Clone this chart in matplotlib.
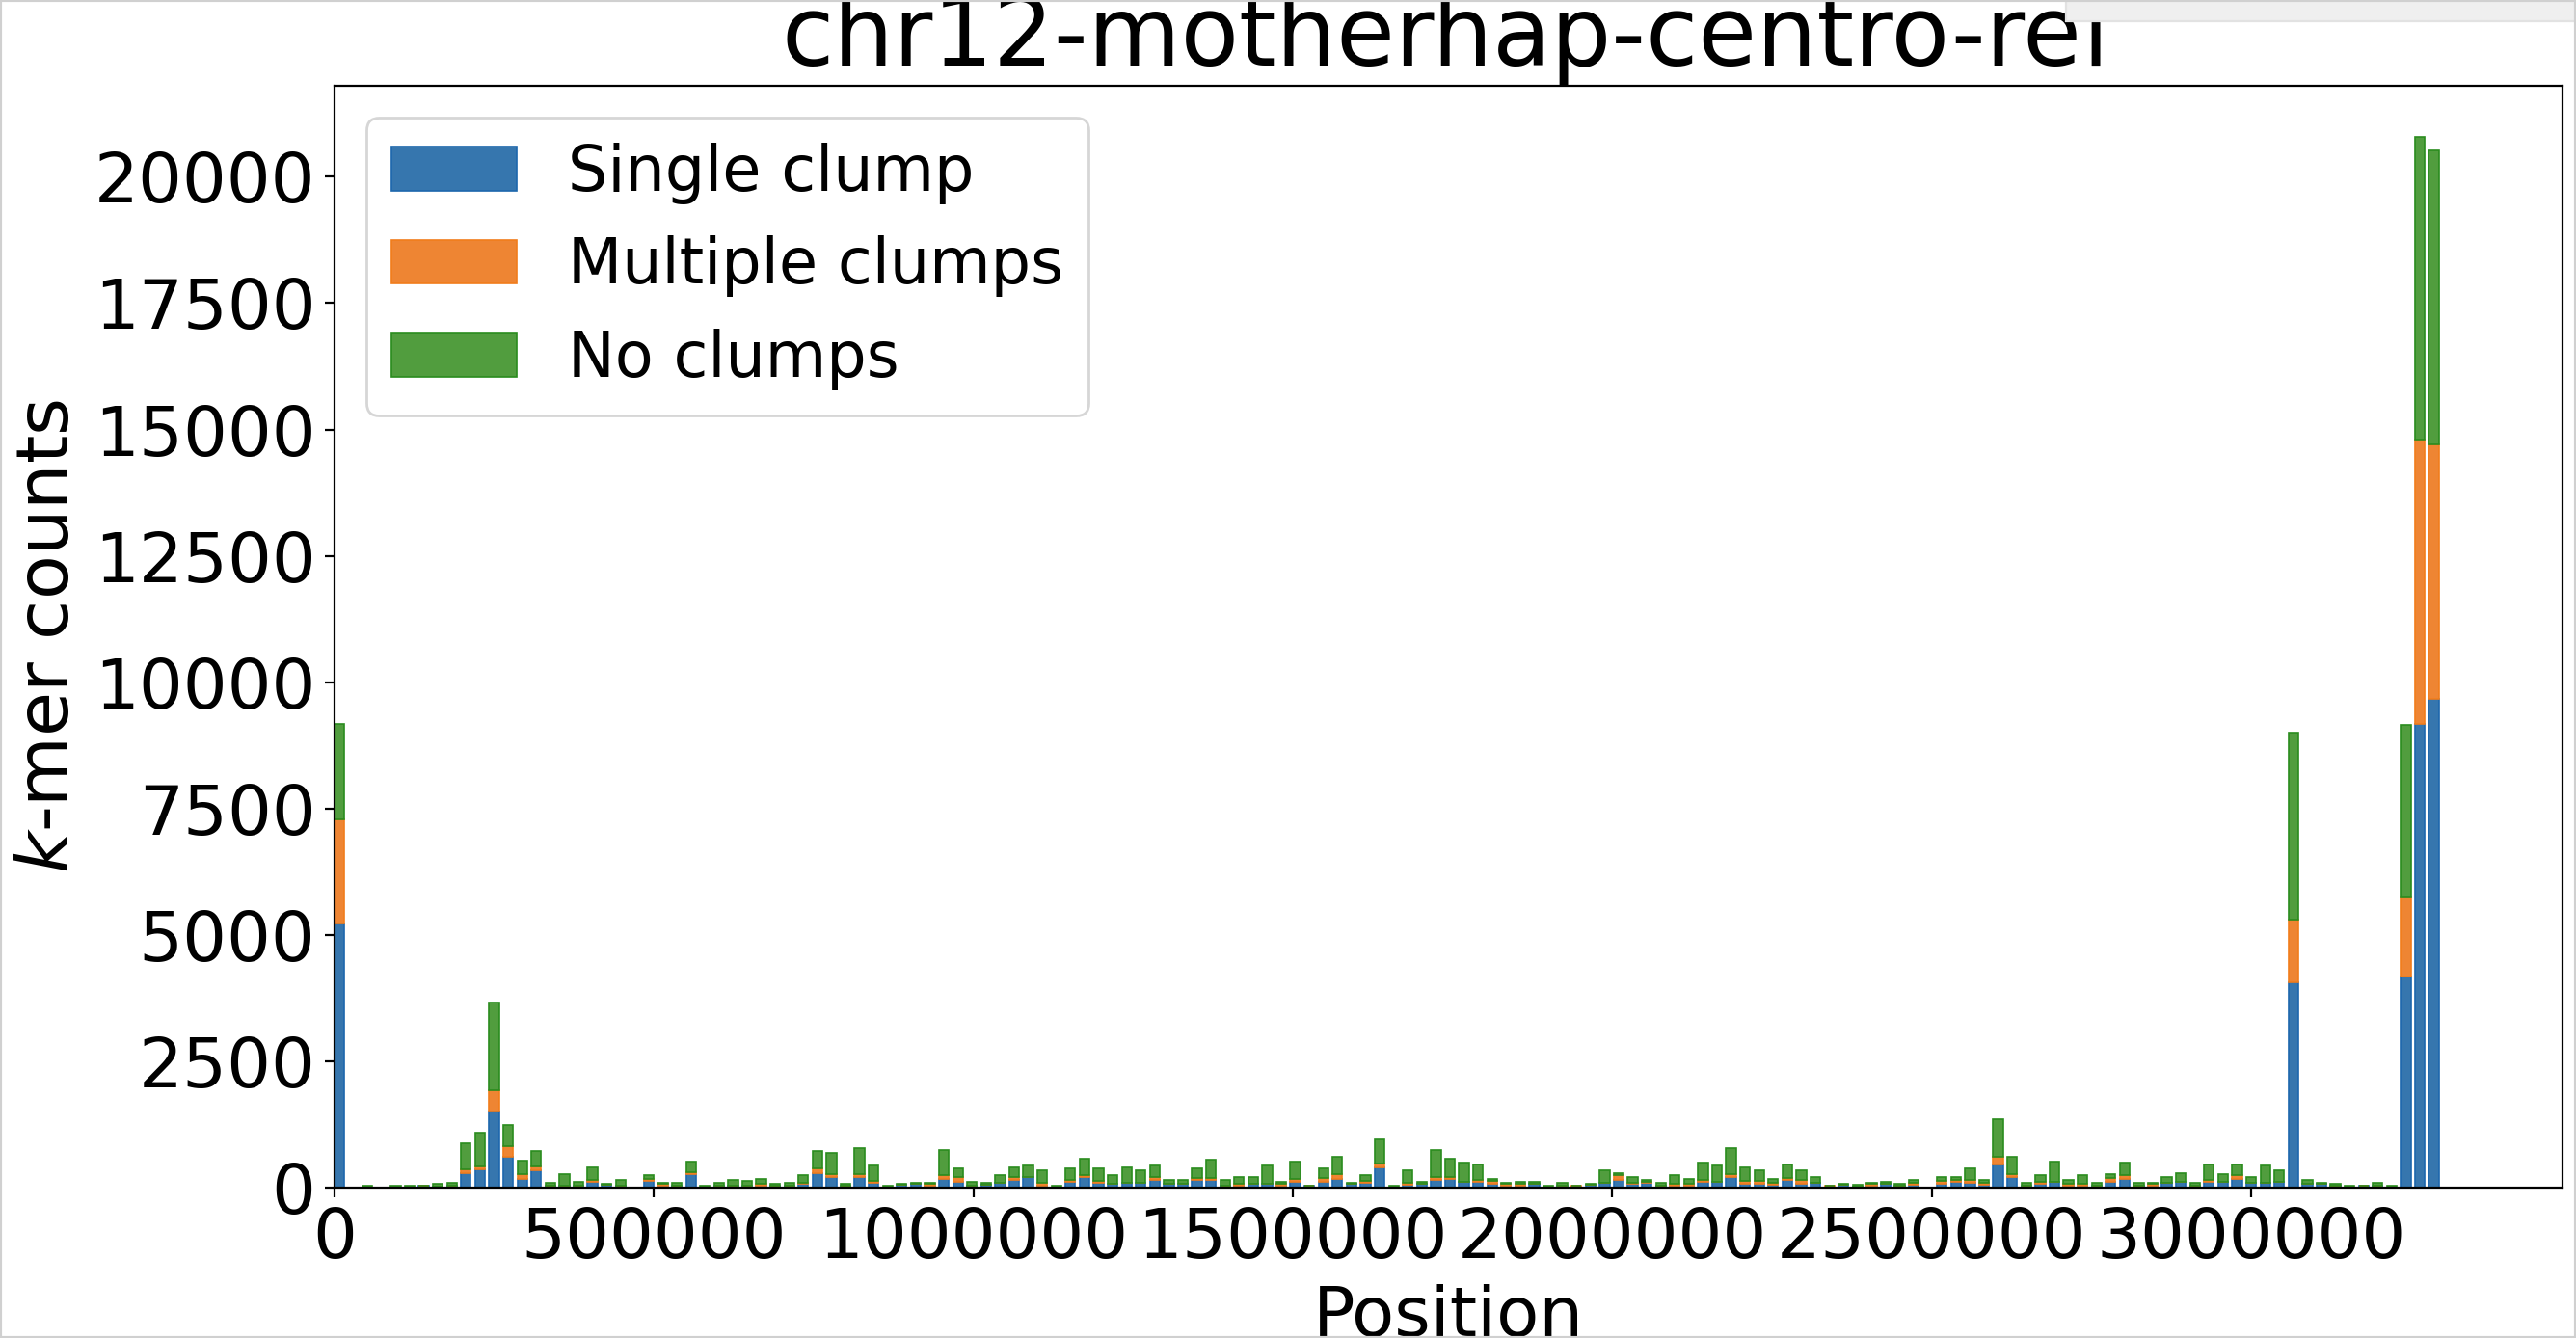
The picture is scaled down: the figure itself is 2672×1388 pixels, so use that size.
import numpy as np
import matplotlib
matplotlib.use("Agg")
import matplotlib.pyplot as plt
from matplotlib.patches import Rectangle

# ---- data ----
bin_size = 22000
single_clump = [5225, 0, 0, 0, 0, 0, 30, 10, 38, 292,
                355, 1509, 609, 178, 349, 38, 38, 38, 120, 50,
                38, 0, 127, 38, 38, 260, 0, 38, 38, 38,
                44, 44, 38, 70, 292, 209, 38, 209, 95, 0,
                57, 76, 38, 178, 120, 38, 57, 95, 146, 216,
                38, 0, 120, 203, 95, 70, 95, 95, 146, 82,
                82, 146, 146, 38, 38, 70, 70, 38, 120, 38,
                120, 178, 76, 95, 399, 0, 63, 70, 146, 178,
                120, 120, 82, 38, 38, 70, 0, 38, 10, 57,
                95, 146, 70, 95, 38, 38, 38, 120, 120, 203,
                82, 82, 63, 146, 82, 95, 0, 50, 20, 38,
                70, 38, 63, 0, 82, 120, 95, 63, 463, 203,
                38, 70, 120, 38, 38, 38, 120, 178, 38, 38,
                95, 120, 38, 120, 120, 178, 95, 95, 120, 4072,
                70, 70, 38, 0, 30, 38, 0, 4184, 9176, 9678]
multiple_clumps = [2070, 0, 0, 0, 0, 0, 0, 0, 0, 63,
                   63, 412, 203, 95, 76, 0, 0, 0, 38, 0,
                   0, 0, 38, 38, 0, 38, 0, 0, 0, 0,
                   38, 0, 0, 31, 95, 64, 0, 64, 44, 0,
                   0, 0, 38, 76, 96, 0, 0, 0, 57, 0,
                   51, 0, 38, 51, 44, 0, 0, 0, 63, 0,
                   0, 38, 44, 0, 44, 0, 0, 44, 45, 0,
                   70, 95, 0, 44, 77, 0, 32, 0, 63, 38,
                   0, 38, 45, 32, 44, 0, 0, 0, 20, 0,
                   0, 108, 25, 25, 0, 44, 44, 38, 0, 70,
                   45, 45, 32, 38, 76, 0, 38, 0, 0, 32,
                   0, 0, 38, 0, 45, 38, 51, 32, 152, 70,
                   0, 38, 0, 44, 44, 0, 70, 69, 0, 38,
                   0, 0, 0, 38, 0, 69, 0, 0, 0, 1228,
                   0, 0, 0, 0, 0, 0, 0, 1563, 5621, 5022]
no_clumps = [1880, 0, 38, 0, 38, 38, 0, 60, 51, 526,
             666, 1737, 437, 266, 291, 51, 222, 82, 248, 20,
             108, 0, 76, 19, 57, 222, 38, 57, 108, 89,
             96, 26, 57, 140, 329, 412, 32, 500, 298, 38,
             19, 19, 19, 488, 158, 82, 38, 146, 203, 221,
             260, 38, 216, 323, 235, 171, 311, 254, 228, 64,
             64, 190, 355, 108, 121, 133, 367, 38, 355, 0,
             184, 336, 19, 102, 475, 38, 254, 50, 533, 361,
             368, 298, 51, 25, 38, 50, 38, 51, 5, 13,
             254, 38, 108, 26, 57, 159, 96, 330, 317, 500,
             279, 222, 83, 272, 191, 108, 0, 20, 43, 25,
             50, 32, 45, 0, 76, 45, 228, 51, 748, 336,
             57, 133, 400, 64, 159, 57, 70, 241, 57, 19,
             108, 172, 57, 298, 140, 209, 108, 342, 229, 3695,
             76, 25, 32, 38, 0, 57, 38, 3403, 5983, 5829]
series_labels = ["Single clump", "Multiple clumps", "No clumps"]
title_text = "chr12-motherhap-centro-ref"

# ---- plot ----
W, H, DPI = 2672, 1388, 200
fig = plt.figure(figsize=(W / DPI, H / DPI), dpi=DPI)
ax = fig.add_axes([347 / W, 1 - 1232 / H, (2658 - 347) / W, (1232 - 89) / H])

positions = np.arange(len(single_clump)) * bin_size
s = np.array(single_clump, float)
m = np.array(multiple_clumps, float)
n = np.array(no_clumps, float)

fills = ["#3676ae", "#ee8533", "#519d3e"]
edges = ["#1d67ad", "#f17d1c", "#2a8c1e"]
width = 15500
lw = 0.6
ax.bar(positions, s, width=width, align="edge", color=fills[0],
       edgecolor=edges[0], linewidth=lw, label=series_labels[0])
ax.bar(positions, m, width=width, bottom=s, align="edge", color=fills[1],
       edgecolor=edges[1], linewidth=lw, label=series_labels[1])
ax.bar(positions, n, width=width, bottom=s + m, align="edge", color=fills[2],
       edgecolor=edges[2], linewidth=lw, label=series_labels[2])

ax.set_xlim(0, 3.487e6)
ax.set_ylim(0, 21800)
ax.set_xticks([0, 500000, 1000000, 1500000, 2000000, 2500000, 3000000])
ax.set_xticklabels(["0", "500000", "1000000", "1500000", "2000000",
                    "2500000", "3000000"])
ax.set_yticks([0, 2500, 5000, 7500, 10000, 12500, 15000, 17500, 20000])
ax.tick_params(labelsize=26)
ax.set_xlabel("Position", fontsize=26)
ax.set_ylabel("$k$-mer counts", fontsize=27)
ax.set_title(title_text, fontsize=35.5)
ax.legend(loc="upper left", fontsize=23.5)

# screenshot overlay strip in the top-right corner
fig.patches.append(Rectangle((2143 / W, 1 - 22 / H), 1 - 2143 / W, 22 / H,
                             transform=fig.transFigure, facecolor="#efefef",
                             edgecolor="#e2e2e2", linewidth=0.8, zorder=10))
# thin frame around the picture
fig.patches.append(Rectangle((0, 0), 1, 1, transform=fig.transFigure,
                             facecolor="none", edgecolor="#d0d0d0",
                             linewidth=1.5, zorder=10))

fig.savefig("out.png", dpi=DPI)
